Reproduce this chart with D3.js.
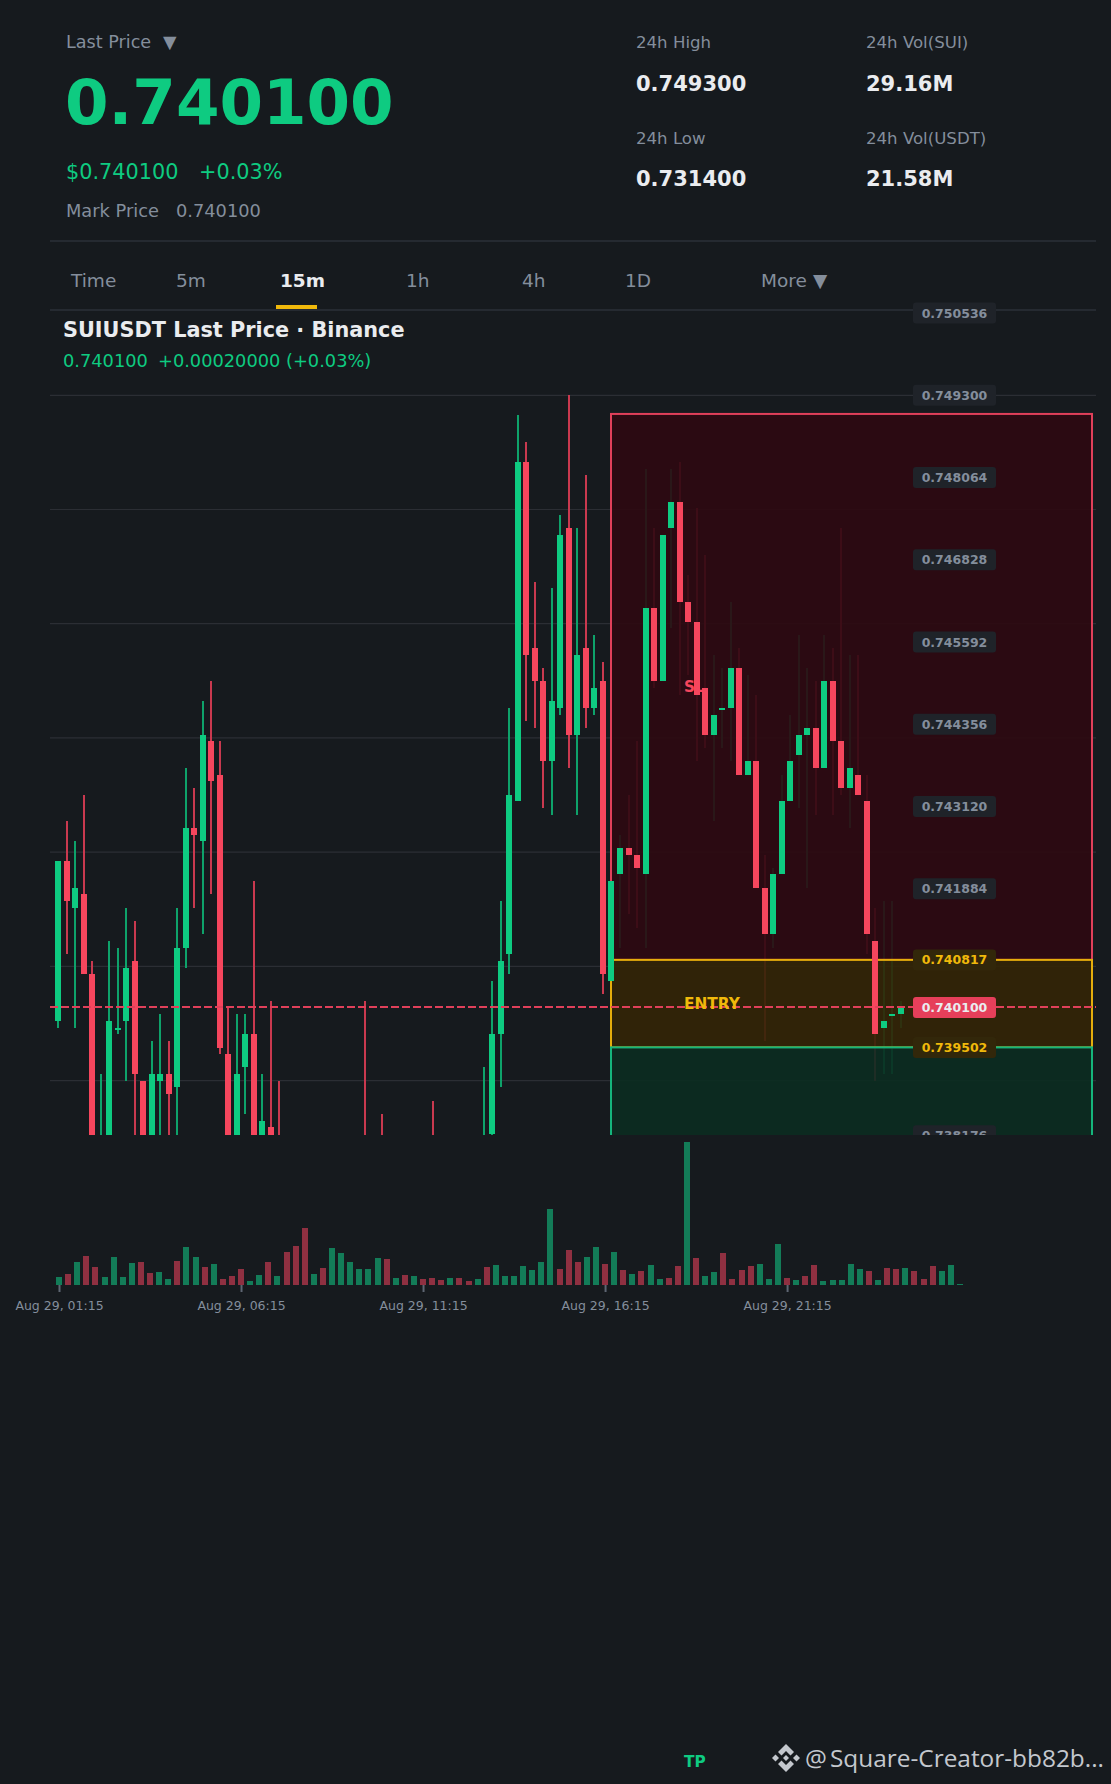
<!DOCTYPE html>
<html>
<head>
<meta charset="utf-8">
<script src="https://cdn.jsdelivr.net/npm/d3@7"></script>
<style>
  html, body { margin: 0; padding: 0; background: #161a1e; }
  svg { display: block; font-family: "DejaVu Sans", sans-serif; }
</style>
</head>
<body>
<div id="chart"></div>
<script>
// 15m candles, index 0 is Aug 29, 01:15. Anything below the chart's cut-off is a guess
const candle_open = [
  0.7399,0.7423,0.7416,0.7418,0.7406,0.7368,0.7378,0.7398,0.7399,0.7408,
  0.7390,0.7376,0.7390,0.7391,0.7389,0.7410,0.7428,0.7426,0.7441,0.7436,
  0.7394,0.7378,0.7392,0.7397,0.7375,0.7383,0.7378,0.7372,0.7365,0.7368,
  0.7360,0.7364,0.7370,0.7366,0.7372,0.7368,0.7374,0.7366,0.7372,0.7364,
  0.7368,0.7360,0.7350,0.7356,0.7352,0.7348,0.7336,0.7344,0.7356,0.7366,
  0.7374,0.7382,0.7397,0.7409,0.7432,0.7483,0.7455,0.7450,0.7438,0.7446,
  0.7473,0.7442,0.7455,0.7446,0.7450,0.7405,0.7421,0.7425,0.7424,0.7421,
  0.7461,0.7450,0.7473,0.7477,0.7462,0.7459,0.7449,0.7442,0.7446,0.7446,
  0.7452,0.7436,0.7438,0.7419,0.7412,0.7421,0.7432,0.7439,0.7442,0.7443,
  0.7437,0.7450,0.7441,0.7434,0.7436,0.7432,0.7411,0.7398,0.7400,0.7400
];
const candle_high = [
  0.7423,0.7429,0.7426,0.7433,0.7408,0.7391,0.7411,0.7410,0.7416,0.7414,
  0.7390,0.7396,0.7400,0.7396,0.7416,0.7437,0.7434,0.7447,0.7450,0.7441,
  0.7401,0.7400,0.7400,0.7420,0.7391,0.7402,0.7390,0.7378,0.7372,0.7376,
  0.7370,0.7374,0.7378,0.7374,0.7380,0.7378,0.7402,0.7376,0.7385,0.7374,
  0.7376,0.7368,0.7362,0.7370,0.7387,0.7360,0.7350,0.7362,0.7372,0.7378,
  0.7392,0.7405,0.7417,0.7446,0.7490,0.7486,0.7465,0.7452,0.7464,0.7475,
  0.7493,0.7473,0.7481,0.7457,0.7453,0.7425,0.7427,0.7433,0.7441,0.7482,
  0.7473,0.7472,0.7482,0.7483,0.7466,0.7476,0.7469,0.7454,0.7452,0.7462,
  0.7455,0.7451,0.7448,0.7424,0.7422,0.7436,0.7445,0.7457,0.7452,0.7450,
  0.7457,0.7455,0.7473,0.7454,0.7454,0.7436,0.7416,0.7417,0.7417,0.7402
];
const candle_low = [
  0.7398,0.7409,0.7398,0.7406,0.7373,0.7365,0.7375,0.7397,0.7390,0.7378,
  0.7372,0.7370,0.7378,0.7376,0.7380,0.7407,0.7416,0.7412,0.7418,0.7394,
  0.7375,0.7376,0.7385,0.7374,0.7372,0.7370,0.7365,0.7360,0.7355,0.7358,
  0.7352,0.7356,0.7362,0.7358,0.7364,0.7360,0.7362,0.7358,0.7360,0.7352,
  0.7356,0.7345,0.7338,0.7348,0.7342,0.7330,0.7314,0.7338,0.7350,0.7358,
  0.7366,0.7378,0.7389,0.7406,0.7432,0.7444,0.7443,0.7431,0.7430,0.7445,
  0.7437,0.7430,0.7443,0.7445,0.7403,0.7400,0.7410,0.7415,0.7413,0.7410,
  0.7449,0.7450,0.7458,0.7448,0.7451,0.7438,0.7440,0.7429,0.7440,0.7438,
  0.7436,0.7436,0.7419,0.7396,0.7410,0.7421,0.7432,0.7431,0.7419,0.7430,
  0.7437,0.7430,0.7433,0.7428,0.7433,0.7409,0.7390,0.7391,0.7391,0.7398
];
const candle_close = [
  0.7423,0.7417,0.7419,0.7406,0.7376,0.7378,0.7399,0.7398,0.7407,0.7391,
  0.7375,0.7391,0.7391,0.7388,0.7410,0.7428,0.7427,0.7442,0.7435,0.7395,
  0.7378,0.7391,0.7397,0.7376,0.7384,0.7376,0.7372,0.7365,0.7368,0.7360,
  0.7364,0.7370,0.7366,0.7372,0.7368,0.7374,0.7366,0.7372,0.7364,0.7368,
  0.7360,0.7350,0.7356,0.7352,0.7348,0.7336,0.7344,0.7356,0.7366,0.7374,
  0.7380,0.7397,0.7408,0.7433,0.7483,0.7454,0.7450,0.7438,0.7447,0.7472,
  0.7442,0.7454,0.7446,0.7449,0.7406,0.7420,0.7425,0.7424,0.7422,0.7461,
  0.7450,0.7472,0.7477,0.7462,0.7459,0.7448,0.7442,0.7445,0.7446,0.7452,
  0.7436,0.7438,0.7419,0.7412,0.7421,0.7432,0.7438,0.7442,0.7443,0.7437,
  0.7450,0.7441,0.7434,0.7437,0.7433,0.7412,0.7397,0.7399,0.7400,0.7401
];
const volume = [
  8,11,23,29,18,8,28,8,22,23,12,13,6,24,38,28,18,21,6,9,
  16,4,10,23,9,33,39,57,11,17,37,32,23,16,16,27,26,7,10,9,
  6,7,5,7,7,4,6,18,20,9,9,19,15,23,76,16,35,23,28,38,
  21,33,15,11,14,20,6,7,19,143,27,9,13,32,6,15,19,21,6,41,
  7,5,9,20,4,5,5,21,16,14,5,17,16,17,14,6,19,14,20,1
];
// the volume panel has its own colouring, 1 = green
const volume_up = [
  1,0,1,0,0,1,1,1,1,0,0,1,1,0,1,1,0,1,0,0,
  0,1,1,0,1,0,0,0,1,0,1,1,1,1,1,1,0,1,0,1,
  0,0,0,1,0,0,1,0,1,1,1,1,1,1,1,0,0,0,1,1,
  0,1,0,1,0,1,1,0,0,1,0,1,1,0,0,0,0,1,1,1,
  0,1,0,0,1,1,1,1,1,0,1,0,0,1,0,0,0,1,1,1
];
const time_tick_index = [0, 20, 40, 60, 80];
const time_tick_labels = ["Aug 29, 01:15", "Aug 29, 06:15", "Aug 29, 11:15", "Aug 29, 16:15", "Aug 29, 21:15"];
const grid_prices = [0.7493, 0.747584, 0.745868, 0.744152, 0.742436, 0.74072, 0.739004];
const axis_prices = [0.750536, 0.7493, 0.748064, 0.746828, 0.745592, 0.744356, 0.74312, 0.741884, 0.738176];
const last_price = 0.7401;
const entry_top = 0.740817;
const entry_bottom = 0.739502;
const sl_top = 0.74902;
const tp_bottom = 0.71805;
const tab_names = ["Time", "5m", "15m", "1h", "4h", "1D", "More"];

const green = "#0ecb81", red = "#f6465d", grey = "#848e9c", white = "#eaecef", amber = "#f0b90b";

const svg = d3.select("#chart").append("svg").attr("width", 1111).attr("height", 1784);
svg.append("rect").attr("width", 1111).attr("height", 1784).attr("fill", "#161a1e");

function addText(x, y, str, size, fill, weight, anchor, parent) {
    return (parent || svg).append("text")
        .attr("x", x).attr("y", y)
        .attr("dy", "0.36em")
        .attr("font-size", size)
        .attr("font-weight", weight || "normal")
        .attr("text-anchor", anchor || "start")
        .attr("fill", fill)
        .style("white-space", "pre")
        .text(str);
}

// Header block
addText(66, 42, "Last Price", 17.6, grey);
addText(163, 42, "▼", 17.6, grey);
addText(65, 101.5, "0.740100", 62.6, green, "bold");
addText(66, 172, "$0.740100", 20.8, green);
addText(199, 172, "+0.03%", 20.8, green);
addText(66, 210.5, "Mark Price", 17.8, grey);
addText(176, 210.5, "0.740100", 17.8, grey);
addText(636, 42, "24h High", 16.6, grey);
addText(636, 83, "0.749300", 21, white, "bold");
addText(866, 42, "24h Vol(SUI)", 16.6, grey);
addText(866, 83, "29.16M", 21, white, "bold");
addText(636, 138, "24h Low", 16.6, grey);
addText(636, 178.5, "0.731400", 21, white, "bold");
addText(866, 138, "24h Vol(USDT)", 16.6, grey);
addText(866, 178.5, "21.58M", 21, white, "bold");

svg.append("line").attr("x1", 50).attr("x2", 1096).attr("y1", 241).attr("y2", 241)
    .attr("stroke", "#2b3139").attr("stroke-width", 1.5);

// Tabs
const tab_x = d3.scaleOrdinal().domain(tab_names).range([71, 176, 280, 406, 522, 625, 761]);
tab_names.forEach((t) => {
    const active = t === "15m";
    addText(tab_x(t), 280.5, t, 18.5, active ? white : grey, active ? "bold" : "normal");
});
addText(813, 280.5, "▼", 18.5, grey);
svg.append("rect").attr("x", 276).attr("y", 305).attr("width", 41).attr("height", 4).attr("fill", amber);
svg.append("line").attr("x1", 50).attr("x2", 1096).attr("y1", 310).attr("y2", 310)
    .attr("stroke", "#2b3139").attr("stroke-width", 1.5);

addText(63, 330, "SUIUSDT Last Price · Binance", 20.8, white, "bold");
addText(63, 361, "0.740100", 17.8, green);
addText(158, 361, "+0.00020000 (+0.03%)", 17.8, green);

// Scales, each panel has its own spacing
const y = d3.scaleLinear().domain([0.7493, 0.7401]).range([395.3, 1007.6]);
const x = d3.scaleLinear().domain([0, 99]).range([58, 901]);
const xVol = d3.scaleLinear().domain([0, 99]).range([59, 960]);
const yVol = d3.scaleLinear().domain([0, 143]).range([1285, 1142]);

svg.append("clipPath").attr("id", "plot_clip").append("rect")
    .attr("x", 0).attr("y", 300).attr("width", 1111).attr("height", 835);
const plot = svg.append("g").attr("clip-path", "url(#plot_clip)");

plot.append("g").selectAll("line").data(grid_prices).join("line")
    .attr("x1", 50).attr("x2", 1096)
    .attr("y1", (d) => y(d)).attr("y2", (d) => y(d))
    .attr("stroke", "#2b2e34").attr("stroke-width", 1.2);

const indexes = d3.range(candle_open.length);
const isUp = (i) => candle_close[i] >= candle_open[i];

// Wicks sit under the position boxes, bodies on top of them
plot.append("g").selectAll("rect").data(indexes).join("rect")
    .attr("x", (i) => x(i) - 1)
    .attr("width", 2)
    .attr("y", (i) => y(candle_high[i]))
    .attr("height", (i) => y(candle_low[i]) - y(candle_high[i]))
    .attr("fill", (i) => isUp(i) ? "#0ea26a" : "#c9394f")
    .attr("shape-rendering", "crispEdges");

function drawZone(top, bottom, fill, stroke) {
    plot.append("rect")
        .attr("x", 611).attr("width", 481)
        .attr("y", y(top)).attr("height", y(bottom) - y(top))
        .attr("fill", fill).attr("stroke", stroke).attr("stroke-width", 2);
}
drawZone(sl_top, entry_top, "rgba(46,9,17,0.9)", "#e0405a");
drawZone(entry_top, entry_bottom, "rgba(51,37,5,0.9)", "#e5ad0c");
drawZone(entry_bottom, tp_bottom, "rgba(11,44,32,0.9)", "#15b57c");

const zone_text_x = 684;
addText(zone_text_x, (y(sl_top) + y(entry_top)) / 2, "SL", 15.3, red, "bold");
addText(zone_text_x, (y(entry_top) + y(entry_bottom)) / 2, "ENTRY", 15.3, amber, "bold");

plot.append("g").selectAll("rect").data(indexes).join("rect")
    .attr("x", (i) => x(i) - 3)
    .attr("width", 6)
    .attr("y", (i) => y(Math.max(candle_open[i], candle_close[i])))
    .attr("height", (i) => Math.max(2, Math.abs(y(candle_open[i]) - y(candle_close[i]))))
    .attr("fill", (i) => isUp(i) ? green : red)
    .attr("shape-rendering", "crispEdges");

// snapped down a bit, crisp edges otherwise push it a pixel low
plot.append("line")
    .attr("x1", 50).attr("x2", 1096)
    .attr("y1", Math.floor(y(last_price))).attr("y2", Math.floor(y(last_price)))
    .attr("stroke", "#e0405a").attr("stroke-width", 2)
    .attr("stroke-dasharray", "8 3")
    .attr("shape-rendering", "crispEdges");

// Price labels on the right
function priceLabel(price, bg, color) {
    plot.append("rect")
        .attr("x", 913).attr("width", 83).attr("height", 21).attr("rx", 3)
        .attr("y", y(price) - 10.5)
        .attr("fill", bg);
    addText(954.5, y(price), d3.format(".6f")(price), 12.5, color, "bold", "middle", plot);
}
axis_prices.forEach((p) => priceLabel(p, "#1f2329", grey));
priceLabel(entry_top, "#32270a", amber);
priceLabel(entry_bottom, "#32270a", amber);
priceLabel(last_price, "#e63f5a", white);

// Volume panel
svg.append("g").selectAll("rect").data(indexes).join("rect")
    .attr("x", (i) => xVol(i) - 3)
    .attr("width", 6)
    .attr("y", (i) => yVol(volume[i]))
    .attr("height", (i) => yVol(0) - yVol(volume[i]))
    .attr("fill", (i) => volume_up[i] ? "#137c58" : "#8f3041")
    .attr("shape-rendering", "crispEdges");

const time_axis = svg.append("g")
    .attr("transform", "translate(0,1285)")
    .call(d3.axisBottom(xVol)
        .tickValues(time_tick_index)
        .tickFormat((d, i) => time_tick_labels[i])
        .tickSize(7)
        .tickPadding(9));
time_axis.select(".domain").remove();
time_axis.selectAll("line").attr("stroke", "#5e6673").attr("stroke-width", 2);
time_axis.selectAll("text").attr("fill", grey).attr("font-size", 12.5).attr("font-family", "DejaVu Sans");

// TP label of the position box falls far below the clipped chart
addText(zone_text_x, (y(entry_bottom) + y(tp_bottom)) / 2, "TP", 15.3, green, "bold");

// Watermark at the bottom, logo is five little shapes
const logo = svg.append("g").attr("transform", "translate(786,1758)").attr("fill", "#c4c8ce");
logo.append("path").attr("d", "M0,-14 L8,-6 L4.5,-2.5 L0,-7 L-4.5,-2.5 L-8,-6 Z");
logo.append("path").attr("d", "M0,14 L8,6 L4.5,2.5 L0,7 L-4.5,2.5 L-8,6 Z");
logo.append("path").attr("d", "M-14,0 L-10.5,-3.5 L-7,0 L-10.5,3.5 Z");
logo.append("path").attr("d", "M14,0 L10.5,-3.5 L7,0 L10.5,3.5 Z");
logo.append("path").attr("d", "M0,-3 L3,0 L0,3 L-3,0 Z");
addText(805, 1758, "@", 24.4, "#c4c8ce").style("font-family", "Open Sans");
addText(830, 1758, "Square-Creator-bb82b...", 24.4, "#c4c8ce").style("font-family", "Open Sans");
</script>
</body>
</html>
